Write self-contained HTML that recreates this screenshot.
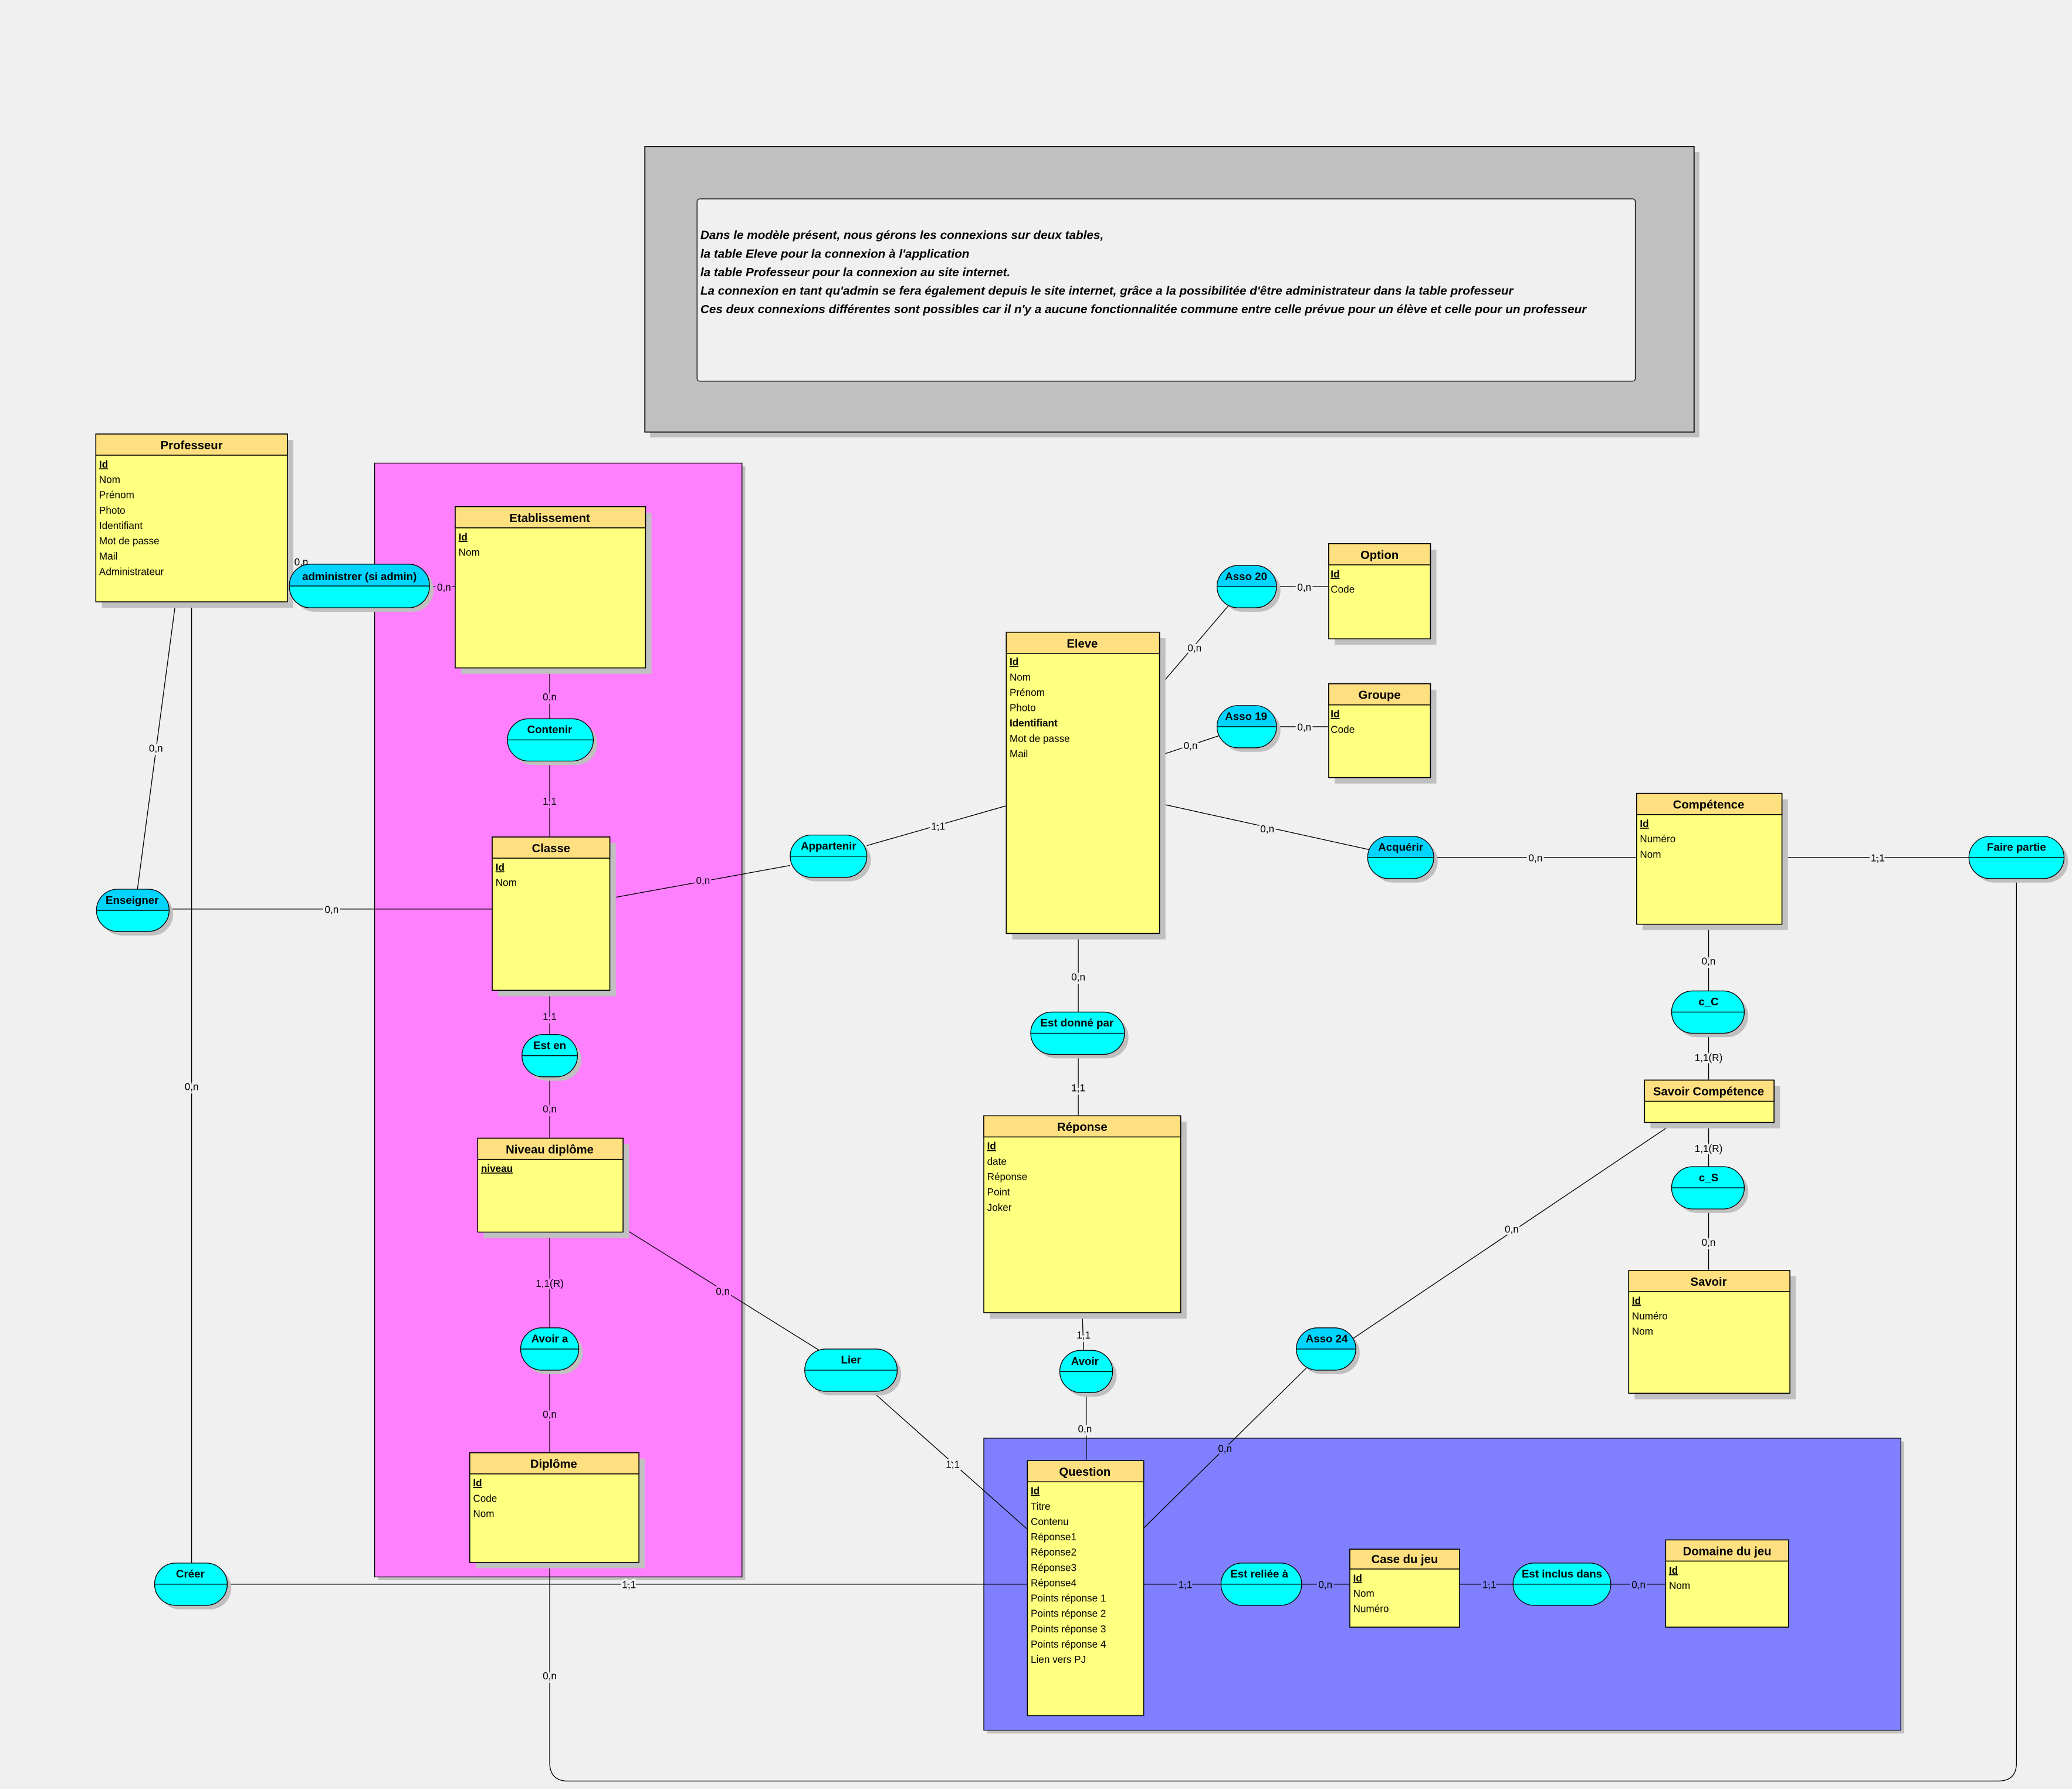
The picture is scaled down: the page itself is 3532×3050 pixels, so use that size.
<!DOCTYPE html>
<html><head><meta charset="utf-8"><style>
html,body{margin:0;padding:0;background:#f0f0f0;}
svg{display:block;}
text{font-family:"Liberation Sans",sans-serif;}
.t{font-size:9px;font-weight:bold;text-anchor:middle;}
.a{font-size:7.6px;}
.u{font-weight:bold;text-decoration:underline;}
.p{font-size:8.3px;font-weight:bold;text-anchor:middle;}
.l{font-size:7.6px;text-anchor:middle;paint-order:stroke;stroke-width:3px;}
.lg{stroke:#f0f0f0;}
.lm{stroke:#ff80ff;}
.lb{stroke:#8080ff;}
.n{font-size:9.2px;font-weight:bold;font-style:italic;}
line,path.c{stroke:#000;stroke-width:0.6;fill:none;}
.sh{fill:#c0c0c0;}
.e{fill:#ffff80;stroke:#000;stroke-width:0.7;}
.h{fill:#ffe080;stroke:#000;stroke-width:0.7;}
</style></head><body>
<svg width="3532" height="3050" viewBox="0 0 1568 1354" preserveAspectRatio="none" xmlns="http://www.w3.org/2000/svg">
<defs>
<linearGradient id="gd" x1="0" y1="0" x2="0" y2="1"><stop offset="0.5" stop-color="#00d4ff"/><stop offset="0.5" stop-color="#00ffff"/></linearGradient>
</defs>
<rect x="0" y="0" width="1568" height="1354" fill="#f0f0f0"/>

<!-- note -->
<rect x="492" y="115" width="794" height="216" class="sh"/>
<rect x="488" y="111" width="794" height="216" fill="#c0c0c0" stroke="#000" stroke-width="0.8"/>
<rect x="527.5" y="150.5" width="710" height="138" rx="2" fill="#f0f0f0" stroke="#000" stroke-width="0.6"/>
<text class="n" x="530" y="181">Dans le modèle présent, nous gérons les connexions sur deux tables,</text>
<text class="n" x="530" y="195">la table Eleve pour la connexion à l'application</text>
<text class="n" x="530" y="209">la table Professeur pour la connexion au site internet.</text>
<text class="n" x="530" y="223">La connexion en tant qu'admin se fera également depuis le site internet, grâce a la possibilitée d'être administrateur dans la table professeur</text>
<text class="n" x="530" y="237">Ces deux connexions différentes sont possibles car il n'y a aucune fonctionnalitée commune entre celle prévue pour un élève et celle pour un professeur</text>

<!-- regions -->
<rect x="286" y="353" width="278" height="843" class="sh"/>
<rect x="283.5" y="350.5" width="278" height="843" fill="#ff80ff" stroke="#000" stroke-width="0.6"/>
<rect x="747" y="1091" width="694" height="221" class="sh"/>
<rect x="744.5" y="1088.5" width="694" height="221" fill="#8080ff" stroke="#000" stroke-width="0.6"/>

<!-- connectors -->
<line x1="217" y1="420" x2="222" y2="428"/>
<line x1="325" y1="444" x2="344" y2="444"/>
<line x1="416" y1="505" x2="416" y2="544"/>
<line x1="416" y1="576" x2="416" y2="633"/>
<line x1="416" y1="749" x2="416" y2="783"/>
<line x1="416" y1="815" x2="416" y2="861"/>
<line x1="416" y1="932" x2="416" y2="1005"/>
<line x1="416" y1="1037" x2="416" y2="1099"/>
<line x1="133" y1="455" x2="104" y2="673"/>
<line x1="128" y1="688" x2="372" y2="688"/>
<line x1="145" y1="455" x2="145" y2="1183"/>
<line x1="172" y1="1199" x2="777" y2="1199"/>
<line x1="461" y1="680" x2="598" y2="655"/>
<line x1="656" y1="640" x2="761" y2="610"/>
<line x1="877" y1="520" x2="930" y2="458"/>
<line x1="966" y1="444" x2="1005" y2="444"/>
<line x1="877" y1="572" x2="922" y2="557"/>
<line x1="966" y1="550" x2="1005" y2="550"/>
<line x1="877" y1="608" x2="1036" y2="643"/>
<line x1="1085" y1="649" x2="1238" y2="649"/>
<line x1="1348" y1="649" x2="1490" y2="649"/>
<path class="c" d="M1526 665 L1526 1334 Q1526 1348 1512 1348 L430 1348 Q416 1348 416 1334 L416 1182"/>
<line x1="816" y1="706" x2="816" y2="766"/>
<line x1="816" y1="798" x2="816" y2="844"/>
<line x1="819" y1="993" x2="820" y2="1022"/>
<line x1="822" y1="1054" x2="822" y2="1105"/>
<line x1="471" y1="929" x2="620" y2="1022"/>
<line x1="660" y1="1053" x2="777" y2="1157"/>
<line x1="865" y1="1157" x2="990" y2="1034"/>
<line x1="1024" y1="1013" x2="1268" y2="849"/>
<line x1="1293" y1="699" x2="1293" y2="750"/>
<line x1="1293" y1="782" x2="1293" y2="817"/>
<line x1="1293" y1="849" x2="1293" y2="883"/>
<line x1="1293" y1="915" x2="1293" y2="961"/>
<line x1="865" y1="1199" x2="924" y2="1199"/>
<line x1="985" y1="1199" x2="1021" y2="1199"/>
<line x1="1104" y1="1199" x2="1145" y2="1199"/>
<line x1="1219" y1="1199" x2="1260" y2="1199"/>

<!-- cardinality labels -->
<text class="l lg" x="228" y="428">0,n</text>
<text class="l lm" x="336" y="447">0,n</text>
<text class="l lm" x="416" y="530">0,n</text>
<text class="l lm" x="416" y="609">1,1</text>
<text class="l lm" x="416" y="772">1,1</text>
<text class="l lm" x="416" y="842">0,n</text>
<text class="l lm" x="416" y="974">1,1(R)</text>
<text class="l lm" x="416" y="1073">0,n</text>
<text class="l lg" x="118" y="569">0,n</text>
<text class="l lg" x="251" y="691">0,n</text>
<text class="l lg" x="145" y="825">0,n</text>
<text class="l lg" x="476" y="1202">1,1</text>
<text class="l lm" x="532" y="669">0,n</text>
<text class="l lg" x="710" y="628">1,1</text>
<text class="l lg" x="904" y="493">0,n</text>
<text class="l lg" x="987" y="447">0,n</text>
<text class="l lg" x="901" y="567">0,n</text>
<text class="l lg" x="987" y="553">0,n</text>
<text class="l lg" x="959" y="630">0,n</text>
<text class="l lg" x="1162" y="652">0,n</text>
<text class="l lg" x="1421" y="652">1,1</text>
<text class="l lg" x="416" y="1271">0,n</text>
<text class="l lg" x="816" y="742">0,n</text>
<text class="l lg" x="816" y="826">1,1</text>
<text class="l lg" x="820" y="1013">1,1</text>
<text class="l lg" x="821" y="1084">0,n</text>
<text class="l lm" x="547" y="980">0,n</text>
<text class="l lg" x="721" y="1111">1,1</text>
<text class="l lb" x="927" y="1099">0,n</text>
<text class="l lg" x="1144" y="933">0,n</text>
<text class="l lg" x="1293" y="730">0,n</text>
<text class="l lg" x="1293" y="803">1,1(R)</text>
<text class="l lg" x="1293" y="872">1,1(R)</text>
<text class="l lg" x="1293" y="943">0,n</text>
<text class="l lb" x="897" y="1202">1,1</text>
<text class="l lb" x="1003" y="1202">0,n</text>
<text class="l lb" x="1127" y="1202">1,1</text>
<text class="l lb" x="1240" y="1202">0,n</text>

<!-- entities -->
<g>
<rect x="77" y="333" width="145" height="127" class="sh"/>
<rect x="72.5" y="328.5" width="145" height="127" class="e"/>
<rect x="72.5" y="328.5" width="145" height="16" class="h"/>
<text class="t" x="145" y="340">Professeur</text>
<text class="a u" x="75" y="354">Id</text>
<text class="a" x="75" y="365.6">Nom</text>
<text class="a" x="75" y="377.2">Prénom</text>
<text class="a" x="75" y="388.8">Photo</text>
<text class="a" x="75" y="400.4">Identifiant</text>
<text class="a" x="75" y="412">Mot de passe</text>
<text class="a" x="75" y="423.6">Mail</text>
<text class="a" x="75" y="435.2">Administrateur</text>
</g>
<g>
<rect x="349" y="388" width="144" height="122" class="sh"/>
<rect x="344.5" y="383.5" width="144" height="122" class="e"/>
<rect x="344.5" y="383.5" width="144" height="16" class="h"/>
<text class="t" x="416" y="395">Etablissement</text>
<text class="a u" x="347" y="409">Id</text>
<text class="a" x="347" y="420.6">Nom</text>
</g>
<g>
<rect x="377" y="638" width="89" height="116" class="sh"/>
<rect x="372.5" y="633.5" width="89" height="116" class="e"/>
<rect x="372.5" y="633.5" width="89" height="16" class="h"/>
<text class="t" x="417" y="645">Classe</text>
<text class="a u" x="375" y="659">Id</text>
<text class="a" x="375" y="670.6">Nom</text>
</g>
<g>
<rect x="366" y="866" width="110" height="71" class="sh"/>
<rect x="361.5" y="861.5" width="110" height="71" class="e"/>
<rect x="361.5" y="861.5" width="110" height="16" class="h"/>
<text class="t" x="416" y="873">Niveau diplôme</text>
<text class="a u" x="364" y="887">niveau</text>
</g>
<g>
<rect x="360" y="1104" width="128" height="83" class="sh"/>
<rect x="355.5" y="1099.5" width="128" height="83" class="e"/>
<rect x="355.5" y="1099.5" width="128" height="16" class="h"/>
<text class="t" x="419" y="1111">Diplôme</text>
<text class="a u" x="358" y="1125">Id</text>
<text class="a" x="358" y="1136.6">Code</text>
<text class="a" x="358" y="1148.2">Nom</text>
</g>
<g>
<rect x="766" y="483" width="116" height="228" class="sh"/>
<rect x="761.5" y="478.5" width="116" height="228" class="e"/>
<rect x="761.5" y="478.5" width="116" height="16" class="h"/>
<text class="t" x="819" y="490">Eleve</text>
<text class="a u" x="764" y="503.5">Id</text>
<text class="a" x="764" y="515.1">Nom</text>
<text class="a" x="764" y="526.7">Prénom</text>
<text class="a" x="764" y="538.3">Photo</text>
<text class="a" x="764" y="549.9" font-weight="bold">Identifiant</text>
<text class="a" x="764" y="561.5">Mot de passe</text>
<text class="a" x="764" y="573.1">Mail</text>
</g>
<g>
<rect x="1010" y="416" width="77" height="72" class="sh"/>
<rect x="1005.5" y="411.5" width="77" height="72" class="e"/>
<rect x="1005.5" y="411.5" width="77" height="16" class="h"/>
<text class="t" x="1044" y="423">Option</text>
<text class="a u" x="1007" y="437">Id</text>
<text class="a" x="1007" y="448.6">Code</text>
</g>
<g>
<rect x="1010" y="522" width="77" height="71" class="sh"/>
<rect x="1005.5" y="517.5" width="77" height="71" class="e"/>
<rect x="1005.5" y="517.5" width="77" height="16" class="h"/>
<text class="t" x="1044" y="529">Groupe</text>
<text class="a u" x="1007" y="543">Id</text>
<text class="a" x="1007" y="554.6">Code</text>
</g>
<g>
<rect x="1243" y="605" width="110" height="99" class="sh"/>
<rect x="1238.5" y="600.5" width="110" height="99" class="e"/>
<rect x="1238.5" y="600.5" width="110" height="16" class="h"/>
<text class="t" x="1293" y="612">Compétence</text>
<text class="a u" x="1241" y="626">Id</text>
<text class="a" x="1241" y="637.6">Numéro</text>
<text class="a" x="1241" y="649.2">Nom</text>
</g>
<g>
<rect x="1249" y="822" width="98" height="32" class="sh"/>
<rect x="1244.5" y="817.5" width="98" height="32" class="e"/>
<rect x="1244.5" y="817.5" width="98" height="16" class="h"/>
<text class="t" x="1293" y="829">Savoir Compétence</text>
</g>
<g>
<rect x="1237" y="966" width="122" height="93" class="sh"/>
<rect x="1232.5" y="961.5" width="122" height="93" class="e"/>
<rect x="1232.5" y="961.5" width="122" height="16" class="h"/>
<text class="t" x="1293" y="973">Savoir</text>
<text class="a u" x="1235" y="987">Id</text>
<text class="a" x="1235" y="998.6">Numéro</text>
<text class="a" x="1235" y="1010.2">Nom</text>
</g>
<g>
<rect x="749" y="849" width="149" height="149" class="sh"/>
<rect x="744.5" y="844.5" width="149" height="149" class="e"/>
<rect x="744.5" y="844.5" width="149" height="16" class="h"/>
<text class="t" x="819" y="856">Réponse</text>
<text class="a u" x="747" y="870">Id</text>
<text class="a" x="747" y="881.6">date</text>
<text class="a" x="747" y="893.2">Réponse</text>
<text class="a" x="747" y="904.8">Point</text>
<text class="a" x="747" y="916.4">Joker</text>
</g>
<g>
<rect x="777.5" y="1105.5" width="88" height="193" class="e"/>
<rect x="777.5" y="1105.5" width="88" height="16" class="h"/>
<text class="t" x="821" y="1117">Question</text>
<text class="a u" x="780" y="1131">Id</text>
<text class="a" x="780" y="1142.6">Titre</text>
<text class="a" x="780" y="1154.2">Contenu</text>
<text class="a" x="780" y="1165.8">Réponse1</text>
<text class="a" x="780" y="1177.4">Réponse2</text>
<text class="a" x="780" y="1189">Réponse3</text>
<text class="a" x="780" y="1200.6">Réponse4</text>
<text class="a" x="780" y="1212.2">Points réponse 1</text>
<text class="a" x="780" y="1223.8">Points réponse 2</text>
<text class="a" x="780" y="1235.4">Points réponse 3</text>
<text class="a" x="780" y="1247">Points réponse 4</text>
<text class="a" x="780" y="1258.6">Lien vers PJ</text>
</g>
<g>
<rect x="1021.5" y="1172.5" width="83" height="59" class="e"/>
<rect x="1021.5" y="1172.5" width="83" height="15" class="h"/>
<text class="t" x="1063" y="1183">Case du jeu</text>
<text class="a u" x="1024" y="1197">Id</text>
<text class="a" x="1024" y="1208.6">Nom</text>
<text class="a" x="1024" y="1220.2">Numéro</text>
</g>
<g>
<rect x="1260.5" y="1165.5" width="93" height="66" class="e"/>
<rect x="1260.5" y="1165.5" width="93" height="16" class="h"/>
<text class="t" x="1307" y="1177">Domaine du jeu</text>
<text class="a u" x="1263" y="1191">Id</text>
<text class="a" x="1263" y="1202.6">Nom</text>
</g>

<!-- associations -->
<g stroke="#000" stroke-width="0.6">
<rect x="222" y="430" width="106" height="33" rx="16" class="sh" stroke="none"/>
<rect x="219" y="427" width="106" height="33" rx="16" fill="url(#gd)"/>
<line x1="219" y1="443.5" x2="325" y2="443.5"/>
<rect x="387" y="547" width="65" height="32" rx="16" class="sh" stroke="none"/>
<rect x="384" y="544" width="65" height="32" rx="16" fill="#00ffff"/>
<line x1="384" y1="560" x2="449" y2="560"/>
<rect x="398" y="786" width="42" height="32" rx="16" class="sh" stroke="none"/>
<rect x="395" y="783" width="42" height="32" rx="16" fill="#00ffff"/>
<line x1="395" y1="799" x2="437" y2="799"/>
<rect x="397" y="1008" width="44" height="32" rx="16" class="sh" stroke="none"/>
<rect x="394" y="1005" width="44" height="32" rx="16" fill="#00ffff"/>
<line x1="394" y1="1021" x2="438" y2="1021"/>
<rect x="76" y="676" width="55" height="32" rx="16" class="sh" stroke="none"/>
<rect x="73" y="673" width="55" height="32" rx="16" fill="url(#gd)"/>
<line x1="73" y1="689" x2="128" y2="689"/>
<rect x="120" y="1186" width="55" height="32" rx="16" class="sh" stroke="none"/>
<rect x="117" y="1183" width="55" height="32" rx="16" fill="#00ffff"/>
<line x1="117" y1="1199" x2="172" y2="1199"/>
<rect x="601" y="635" width="58" height="32" rx="16" class="sh" stroke="none"/>
<rect x="598" y="632" width="58" height="32" rx="16" fill="#00ffff"/>
<line x1="598" y1="648" x2="656" y2="648"/>
<rect x="612" y="1024" width="70" height="32" rx="16" class="sh" stroke="none"/>
<rect x="609" y="1021" width="70" height="32" rx="16" fill="#00ffff"/>
<line x1="609" y1="1037" x2="679" y2="1037"/>
<rect x="924" y="431" width="45" height="32" rx="16" class="sh" stroke="none"/>
<rect x="921" y="428" width="45" height="32" rx="16" fill="url(#gd)"/>
<line x1="921" y1="444" x2="966" y2="444"/>
<rect x="924" y="537" width="45" height="32" rx="16" class="sh" stroke="none"/>
<rect x="921" y="534" width="45" height="32" rx="16" fill="url(#gd)"/>
<line x1="921" y1="550" x2="966" y2="550"/>
<rect x="1038" y="636" width="50" height="32" rx="16" class="sh" stroke="none"/>
<rect x="1035" y="633" width="50" height="32" rx="16" fill="url(#gd)"/>
<line x1="1035" y1="649" x2="1085" y2="649"/>
<rect x="783" y="769" width="71" height="32" rx="16" class="sh" stroke="none"/>
<rect x="780" y="766" width="71" height="32" rx="16" fill="#00ffff"/>
<line x1="780" y1="782" x2="851" y2="782"/>
<rect x="805" y="1025" width="40" height="32" rx="16" class="sh" stroke="none"/>
<rect x="802" y="1022" width="40" height="32" rx="16" fill="#00ffff"/>
<line x1="802" y1="1038" x2="842" y2="1038"/>
<rect x="984" y="1008" width="45" height="32" rx="16" class="sh" stroke="none"/>
<rect x="981" y="1005" width="45" height="32" rx="16" fill="url(#gd)"/>
<line x1="981" y1="1021" x2="1026" y2="1021"/>
<rect x="1493" y="636" width="72" height="32" rx="16" class="sh" stroke="none"/>
<rect x="1490" y="633" width="72" height="32" rx="16" fill="#00ffff"/>
<line x1="1490" y1="649" x2="1562" y2="649"/>
<rect x="1268" y="753" width="55" height="32" rx="16" class="sh" stroke="none"/>
<rect x="1265" y="750" width="55" height="32" rx="16" fill="#00ffff"/>
<line x1="1265" y1="766" x2="1320" y2="766"/>
<rect x="1268" y="886" width="55" height="32" rx="16" class="sh" stroke="none"/>
<rect x="1265" y="883" width="55" height="32" rx="16" fill="#00ffff"/>
<line x1="1265" y1="899" x2="1320" y2="899"/>
<rect x="924" y="1183" width="61" height="32" rx="16" fill="#00ffff"/>
<line x1="924" y1="1199" x2="985" y2="1199"/>
<rect x="1145" y="1183" width="74" height="32" rx="16" fill="#00ffff"/>
<line x1="1145" y1="1199" x2="1219" y2="1199"/>
</g>
<text class="p" x="272" y="439">administrer (si admin)</text>
<text class="p" x="416" y="555">Contenir</text>
<text class="p" x="416" y="794">Est en</text>
<text class="p" x="416" y="1016">Avoir a</text>
<text class="p" x="100" y="684">Enseigner</text>
<text class="p" x="144" y="1194">Créer</text>
<text class="p" x="627" y="643">Appartenir</text>
<text class="p" x="644" y="1032">Lier</text>
<text class="p" x="943" y="439">Asso 20</text>
<text class="p" x="943" y="545">Asso 19</text>
<text class="p" x="1060" y="644">Acquérir</text>
<text class="p" x="815" y="777">Est donné par</text>
<text class="p" x="821" y="1033">Avoir</text>
<text class="p" x="1004" y="1016">Asso 24</text>
<text class="p" x="1526" y="644">Faire partie</text>
<text class="p" x="1293" y="761">c_C</text>
<text class="p" x="1293" y="894">c_S</text>
<text class="p" x="953" y="1194">Est reliée à</text>
<text class="p" x="1182" y="1194">Est inclus dans</text>
</svg>
</body></html>
